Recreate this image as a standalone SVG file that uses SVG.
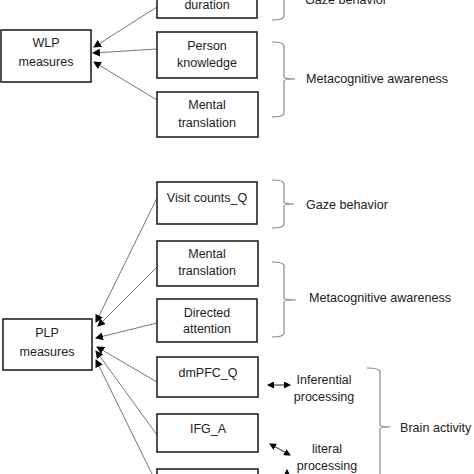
<svg xmlns="http://www.w3.org/2000/svg" width="474" height="474" viewBox="0 0 474 474">
<defs>
<marker id="ah" markerWidth="8" markerHeight="8" refX="7" refY="4" orient="auto" markerUnits="userSpaceOnUse">
<path d="M0,0 L8,4 L0,8 Z" fill="#000"/>
</marker>
<marker id="ahs" markerWidth="7" markerHeight="7" refX="6" refY="3.5" orient="auto-start-reverse" markerUnits="userSpaceOnUse">
<path d="M0,0 L7,3.5 L0,7 Z" fill="#000"/>
</marker>
<style>
.box{fill:#fff;stroke:#222;stroke-width:1.6}
.t{font-family:"Liberation Sans",Arial,sans-serif;font-size:12.5px;fill:#222;text-anchor:middle}
.l{font-family:"Liberation Sans",Arial,sans-serif;font-size:12.6px;fill:#222}
.c{stroke:#777;stroke-width:1;fill:none;marker-end:url(#ah)}
.d{stroke:#222;stroke-width:1;fill:none;marker-end:url(#ahs);marker-start:url(#ahs)}
.br{stroke:#888;stroke-width:1.2;fill:none}
</style>
</defs>
<rect width="474" height="474" fill="#fff"/>

<g id="connectors">
<line class="c" x1="157" y1="7" x2="94" y2="47"/>
<line class="c" x1="157" y1="49" x2="93" y2="53"/>
<line class="c" x1="157" y1="100" x2="94" y2="62"/>
<line class="c" x1="157" y1="198" x2="96" y2="322"/>
<line class="c" x1="157" y1="267" x2="98" y2="326"/>
<line class="c" x1="157" y1="323" x2="96" y2="338"/>
<line class="c" x1="157" y1="382" x2="97" y2="347"/>
<line class="c" x1="157" y1="435" x2="96" y2="351"/>
<line class="c" x1="152" y1="474" x2="96" y2="360"/>
<line class="d" x1="268" y1="385" x2="290" y2="385"/>
<line class="d" x1="270" y1="444" x2="290" y2="455"/>
<line class="d" x1="287" y1="480" x2="287" y2="470"/>
</g>

<g id="wlp"><rect class="box" x="1" y="30" width="90" height="52"/>
<text class="t" x="46" y="47">WLP</text><text class="t" x="46" y="66">measures</text></g>
<g id="duration"><rect class="box" x="157" y="-30" width="100" height="48"/>
<text class="t" x="207" y="9">duration</text></g>
<g id="person"><rect class="box" x="157" y="32" width="100" height="46"/>
<text class="t" x="207" y="50">Person</text><text class="t" x="207" y="67">knowledge</text></g>
<g id="mental1"><rect class="box" x="157" y="92" width="101" height="45"/>
<text class="t" x="207" y="109">Mental</text><text class="t" x="207" y="127">translation</text></g>

<g id="plp"><rect class="box" x="3" y="319" width="89" height="51"/>
<text class="t" x="47" y="337">PLP</text><text class="t" x="47" y="356">measures</text></g>
<g id="visit"><rect class="box" x="157" y="182" width="100" height="42"/>
<text class="t" x="207" y="202">Visit counts_Q</text></g>
<g id="mental2"><rect class="box" x="157" y="241" width="101" height="45"/>
<text class="t" x="207" y="258">Mental</text><text class="t" x="207" y="275">translation</text></g>
<g id="directed"><rect class="box" x="157" y="299" width="100" height="43"/>
<text class="t" x="207" y="317">Directed</text><text class="t" x="207" y="333">attention</text></g>
<g id="dmpfc"><rect class="box" x="157" y="357" width="101" height="40"/>
<text class="t" x="208" y="377">dmPFC_Q</text></g>
<g id="ifg"><rect class="box" x="157" y="414" width="101" height="38"/>
<text class="t" x="208" y="433">IFG_A</text></g>
<g id="bottombox"><rect class="box" x="157" y="469" width="101" height="40"/></g>

<g id="labels">
<path class="br" d="M272,20 Q284,20 284,16 L284,-10"/>
<text class="l" x="305" y="4">Gaze behavior</text>
<path class="br" d="M272,42 Q284,42 284,46 L284,77 Q284,79 295,79 Q284,79 284,81 L284,113 Q284,117 272,117"/>
<text class="l" x="306" y="83">Metacognitive awareness</text>
<path class="br" d="M272,180 Q284,180 284,184 L284,202 Q284,204 294,204 Q284,204 284,206 L284,224 Q284,228 272,228"/>
<text class="l" x="306" y="209">Gaze behavior</text>
<path class="br" d="M272,262 Q284,262 284,266 L284,298 Q284,300 296,300 Q284,300 284,302 L284,333 Q284,337 272,337"/>
<text class="l" x="309" y="302">Metacognitive awareness</text>
<path class="br" d="M367,368 Q380,368 380,372 L380,425 Q380,427 390,427 Q380,427 380,429 L380,480"/>
<text class="l" x="400" y="432">Brain activity</text>
<text class="t" x="324" y="384">Inferential</text>
<text class="t" x="324" y="401">processing</text>
<text class="t" x="327" y="453">literal</text>
<text class="t" x="327" y="470">processing</text>
</g>
</svg>
